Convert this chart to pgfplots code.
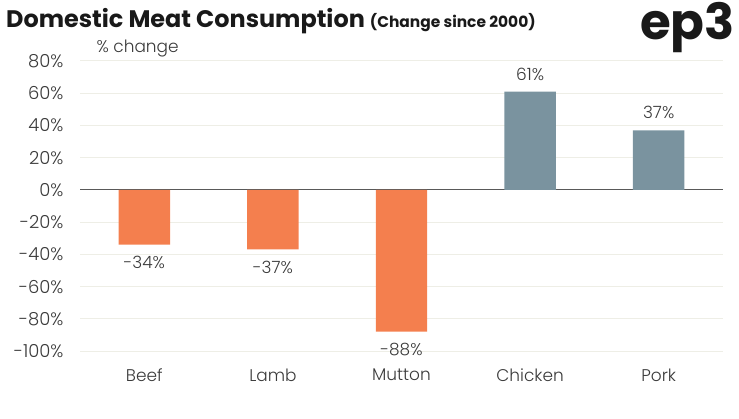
\documentclass[border=0pt]{standalone}
\usepackage{pgfplots}
\pgfplotsset{compat=1.18}
\usepackage{fontspec}
\setmainfont{Poppins}[UprightFont=* Light, BoldFont=* SemiBold]
\newfontfamily\titlefont{Poppins}[UprightFont=* Bold]
\definecolor{meatorange}{HTML}{F47F4E}
\definecolor{meatgrey}{HTML}{7A939F}
\definecolor{gridc}{HTML}{EEEEE6}
\definecolor{txt}{HTML}{3A3A3A}

\begin{document}
\begin{tikzpicture}
\path[use as bounding box] (0,0) rectangle (739bp,419bp);
\begin{axis}[
    at={(80bp,68bp)}, anchor=south west,
    scale only axis,
    width=643bp, height=290bp,
    xmin=-0.5, xmax=4.5,
    ymin=-100, ymax=80,
    ytick={-100,-80,...,80},
    xtick={0,1,2,3,4},
    xticklabels={Beef,Lamb,Mutton,Chicken,Pork},
    yticklabel={\pgfmathprintnumber{\tick}\%},
    /pgf/number format/assume math mode=true,
    axis line style={draw=none},
    major tick style={draw=none},
    ymajorgrids,
    major grid style={gridc, line width=1pt},
    extra y ticks={0},
    extra y tick labels={},
    extra y tick style={ymajorgrids=true, major grid style={color=black!65, line width=1.2pt}},
    ybar, bar width=0.4,
    bar shift=0pt,
    ticklabel style={font=\fontsize{17}{20}\selectfont, text=txt},
    yticklabel style={xshift=-13bp, font=\fontsize{18}{21}\selectfont},
    xticklabel style={yshift=-10bp},
    every axis y label/.style={at={(rel axis cs:0,1)}, anchor=south west, xshift=13bp, yshift=0bp},
    ylabel={\% change},
    ylabel style={font=\fontsize{17}{20}\selectfont, text=txt},
    nodes near coords={\pgfmathprintnumber{\pgfplotspointmeta}\%},
    nodes near coords align={vertical},
    every node near coord/.append style={font=\fontsize{17}{20}\selectfont, text=txt, /pgf/number format/assume math mode=true, inner sep=11bp},
    clip=false,
]
\addplot[fill=meatorange, draw=none] coordinates {(0,-34) (1,-37) (2,-88)};
\addplot[fill=meatgrey, draw=none] coordinates {(3,61) (4,37)};
\end{axis}
\node[anchor=base west, inner sep=0pt, text=black!90] at (6bp,391bp)
  {\titlefont\fontsize{24}{28}\selectfont Domestic Meat Consumption \fontsize{15.5}{18}\selectfont(Change since 2000)};
\node[anchor=base east, inner sep=0pt, text=black!90] at (735bp,379bp)
  {\titlefont\fontsize{50}{55}\selectfont ep3};
\end{tikzpicture}
\end{document}
